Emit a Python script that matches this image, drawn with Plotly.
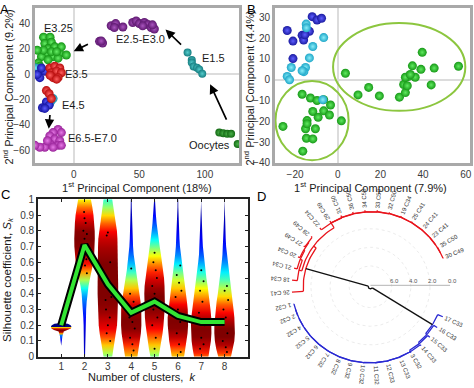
import math
import plotly.graph_objects as go

W, H = 474, 388
def px(x): return x / W
def py(y): return 1 - y / H

# ---------------- Panel A data ----------------
a_oocyte_x = [111, 114, 117, 120, 125]
a_oocyte_y = [-46, -46.5, -47, -47, -55]
a_e15_x = [86.8, 90, 90, 91.4, 94, 95.7, 98]
a_e15_y = [17, 11, 9, 6, 5, 3.6, 0.3]
a_e25_x = [19.7, 22, 21, 28.6, 32, 31, 37.5, 45, 47.6, 50, 53.9, 56.5, 59, 61.5, 52.6, 60]
a_e25_y = [25.7, 24.4, 26, 38, 39.7, 36.6, 37, 40.5, 41.7, 39.7, 40.5, 39, 36.6, 35.4, 37.9, 38.7]
a_e325_x = [-23, -18, -22, -17, -19.5, -14.4, -10.6, -5.6, -9.4, -20.8, -24.6, -27, -15.7, -11.9, -23, -19.5, -25.8, -27.8, -17, -13]
a_e325_y = [29, 29, 24, 25, 20, 21.4, 16.3, 15, 21.4, 16.3, 13.7, 8.6, 13.7, 12.5, 18.8, 11.2, 6.1, 18.8, 17.6, 17.6]
a_e35_x = [-18.2, -14.4, -10.6, -17, -13, -9.4, -15.7, -11.9, -18, -13]
a_e35_y = [4.8, 6.1, 4.8, 1, 2.3, 1, -2.8, -2.8, -1, -4]
a_blue_x = [-25.8, -22, -27.8, -24.6, -20.8, -23.8, -18.7, -22]
a_blue_y = [-2.8, 2.3, -0.3, 4.8, -21.9, -26.5, -24.4, -27]
a_cyan_x = [-27, -29, -17, -15.7, -18.2]
a_cyan_y = [2.3, 4.8, -20.6, -19.3, -23]
a_e45red_x = [-20.8, -18.7, -17]
a_e45red_y = [-13, -15.5, -19.3]
a_e65_x = [-11.9, -9.4, -15.7, -18.2, -14.4, -10.6, -11.9, -18.2, -22, -25.8, -29.6, -15.7, -9.4, -20]
a_e65_y = [-43.5, -46, -46, -48.6, -51, -52.4, -56, -55, -57.5, -57.5, -56, -57.5, -56, -52.4]

a_label_text = ['E3.25', 'E2.5-E3.0', 'E1.5', 'E3.5', 'E4.5', 'E6.5-E7.0', 'Oocytes']
a_label_x = [-24.5, 31, 96, -8, -10.6, -5.6, 121]
a_label_y = [36, 27.7, 12.5, 0, -24, -50, -55.5]
a_label_anchor = ['left', 'left', 'left', 'left', 'left', 'left', 'right']

arr_tail_x = [117, 83, 12, -18]
arr_tail_y = [-37, 22, 24, -31]
arr_head_x = [104, 70, 0, -19]
arr_head_y = [-8, 35, 18, -43]

# ---------------- Panel B data ----------------
b_blue_x = [-23.7, -21, -21, -12, -9.7, -7.6, -16.7, -13.3, -16, -15.4]
b_blue_y = [23.7, 18.6, 10.2, 30.4, 28.8, 29.6, 21.4, 23.3, 19.1, 21.7]
b_cyan_x = [-14.8, -14.7, -6.6, -11.7, -13.3, -21.8, -15.1, -15.9, -23.7, -22.6, -7, -16.7]
b_cyan_y = [26.8, 25, 20.3, 16, 10.5, 5.9, 5.9, 3.9, 1.6, 0, -9.6, 4.3]
b_green_x = [-25.7, -16.7, -12.8, -9.7, -6.6, -3.4, -11.7, -6.6, -3.9, -14.4, -15.1, -10.5, -9.2, -14.7, -11.7, -16.4, 1.7, -14.4,
             3.6, 9.5, 14.5, 19.5, 28.9, 31.7, 30.9, 32.6, 33.2, 31.7, 36.3, 35, 39, 39.6, 45.2, 43.8, 56.6, 34]
b_green_y = [-22.5, -7, -8.8, -10, -9.6, -12.2, -15.3, -15, -17, -19.7, -23.6, -23.6, -18.1, -28.2, -28.5, -34.4, -19.8, -21.2,
             3.1, -7.3, -3.7, -7.8, -8.4, -6.2, -2.3, -2.9, 1.6, 1.2, 1.2, 6.7, 5, 13.2, 5.6, -2.5, 6.5, 2.5]
b_ell_x0 = [-29.2, -2.2]
b_ell_x1 = [5.1, 59.8]
b_ell_y0 = [-38.8, -15.0]
b_ell_y1 = [-0.6, 27.3]

# ---------------- Panel C data ----------------
c_k = [1, 2, 3, 4, 5, 6, 7, 8]
c_mean = [0.20, 0.71, 0.46, 0.28, 0.35, 0.26, 0.22, 0.22]
c_levels = [0, 0.05, 0.1, 0.15, 0.2, 0.25, 0.3, 0.35, 0.4, 0.45, 0.5, 0.55, 0.6, 0.65, 0.7, 0.75, 0.8, 0.85, 0.9, 0.95, 1.0]
c_k1_levels = [0.07, 0.10, 0.13, 0.16, 0.17, 0.18, 0.19, 0.20, 0.21, 0.215]
c_f1 = [0.0, 0.05, 0.12, 0.25, 0.7, 0.95, 1.0, 0.92, 0.65, 0.0]
c_f2 = [0.05, 0.06, 0.07, 0.08, 0.09, 0.12, 0.16, 0.21, 0.28, 0.39, 0.54, 0.72, 0.86, 0.94, 0.99, 1.0, 0.99, 0.94, 0.87, 0.76, 0.62]
c_f3 = [0.42, 0.55, 0.68, 0.8, 0.89, 0.93, 0.97, 0.99, 1, 1, 1, 1, 1, 0.98, 0.96, 0.93, 0.88, 0.78, 0.66, 0.52, 0.42]
c_f4 = [0.6, 0.73, 0.83, 0.94, 0.99, 1.0, 0.98, 0.91, 0.8, 0.68, 0.55, 0.43, 0.31, 0.24, 0.18, 0.14, 0.1, 0.08, 0.06, 0.05, 0.04]
c_f5 = [0.4, 0.55, 0.68, 0.78, 0.87, 0.94, 0.98, 1.0, 1.0, 0.97, 0.92, 0.84, 0.74, 0.62, 0.5, 0.38, 0.28, 0.2, 0.13, 0.08, 0.04]
c_f6 = [0.6, 0.72, 0.85, 0.94, 0.99, 1.0, 0.96, 0.88, 0.78, 0.68, 0.58, 0.48, 0.36, 0.27, 0.2, 0.15, 0.11, 0.08, 0.06, 0.04, 0.03]
c_f7 = [0.7, 0.84, 0.94, 0.99, 1.0, 0.97, 0.9, 0.82, 0.72, 0.62, 0.5, 0.4, 0.3, 0.22, 0.16, 0.12, 0.09, 0.07, 0.05, 0.03, 0.02]
c_f8 = [0.62, 0.82, 0.95, 1.0, 1.0, 0.95, 0.87, 0.78, 0.66, 0.55, 0.45, 0.36, 0.28, 0.21, 0.15, 0.11, 0.08, 0.06, 0.04, 0.02, 0.0]
c_dot_x = [2.0, 2.05, 1.95, 2.1, 2.0, 1.92, 2.08, 2.02, 2.1, 1.98,
           3.0, 2.95, 3.1, 2.9, 3.05, 3.15, 2.92, 3.08, 3.0, 2.95, 3.1, 2.9,
           4.0, 3.95, 4.1, 3.9, 4.05, 4.15, 3.95, 4.05, 4.1, 3.92,
           5.0, 4.95, 5.05, 4.9, 5.1, 5.0, 4.95, 5.12, 4.9, 5.05, 5.0,
           6.1, 5.95, 6.05, 6.15, 5.9, 6.0, 6.1, 5.95, 6.05, 6.12,
           7.0, 7.1, 6.95, 7.05, 6.9, 7.15, 7.0, 6.95, 7.1,
           8.1, 8.0, 8.15, 7.95, 8.05, 8.12, 7.92, 8.05, 8.1]
c_dot_y = [0.88, 0.85, 0.8, 0.78, 0.75, 0.66, 0.62, 0.58, 0.53, 0.92,
           0.79, 0.77, 0.6, 0.5, 0.45, 0.38, 0.3, 0.25, 0.2, 0.15, 0.1, 0.36,
           0.56, 0.4, 0.35, 0.3, 0.22, 0.18, 0.12, 0.08, 0.04, 0.25,
           0.66, 0.6, 0.55, 0.45, 0.5, 0.4, 0.3, 0.25, 0.2, 0.12, 0.05,
           0.58, 0.52, 0.47, 0.42, 0.38, 0.3, 0.22, 0.15, 0.08, 0.03,
           0.55, 0.48, 0.42, 0.35, 0.28, 0.2, 0.12, 0.05, 0.08,
           0.45, 0.42, 0.36, 0.3, 0.25, 0.15, 0.1, 0.06, 0.03]

# ---------------- Panel D data ----------------
d_red_labels = ['26 C41', '18 C34', '21 C34', '20 C34', '27 C49', '28 C49', '22 C34', '29 C49', '31 C50', '36 C50',
                '34 C50', '33 C50', '32 C50', '19 C34', '25 C41', '24 C41', '23 C41', '35 C50', '30 C49']
d_blue_labels = ['1 C32', '2 C32', '4 C32', '5 C32', '6 C32', '7 C32', '8 C32', '9 C32', '10 C32', '11 C32',
                 '12 C33', '13 C33', '3 C32', '14 C33', '15 C33', '16 C33', '17 C33']
d_red_right_chain = [18, 17, 16, 15, 14, 13, 12, 11, 10, 9, 8, 7, 6]
d_red_right_h = [0.04, 0.06, 0.08, 0.10, 0.12, 0.13, 0.15, 0.17, 0.19, 0.21, 0.23, 0.26]
d_red_left_chain = [5, 4, 3, 2, 1]
d_red_left_h = [0.14, 0.22, 0.32, 0.55]
d_red_join_h = 0.85
d_red_root_h = 1.2
d_blue_h = [0.02, 0.025, 0.03, 0.035, 0.04, 0.045, 0.05, 0.06, 0.07, 0.08, 0.09, 0.1, 0.12, 0.28, 0.42, 0.58]
d_root_h = 8.0
d_scale_ticks = [6.0, 4.0, 2.0, 0.0]

# ---------------- helpers ----------------
fig = go.Figure()

def jet(v):
    v = max(0.0, min(1.0, v))
    def c(x): return int(round(255 * max(0.0, min(1.0, x))))
    return 'rgb(%d,%d,%d)' % (c(1.5 - abs(4 * v - 3)), c(1.5 - abs(4 * v - 2)), c(1.5 - abs(4 * v - 1)))

def balls(xs, ys, base, light, size, xa, ya):
    fig.add_trace(go.Scatter(x=xs, y=ys, mode='markers', xaxis=xa, yaxis=ya,
                             marker=dict(size=size, color=base, gradient=dict(type='radial', color=light),
                                         line=dict(width=0)),
                             showlegend=False, hoverinfo='skip'))

# ---------------- Panel A traces ----------------
balls(a_e65_x, a_e65_y, '#9a249a', '#e77ae7', 9, 'x', 'y')
balls(a_e325_x, a_e325_y, '#149414', '#66ee66', 9, 'x', 'y')
balls(a_cyan_x, a_cyan_y, '#1a8fb0', '#78eaf8', 9, 'x', 'y')
balls(a_blue_x, a_blue_y, '#1414a0', '#5c5cff', 9, 'x', 'y')
balls(a_e45red_x, a_e45red_y, '#b80d0d', '#ff6060', 9, 'x', 'y')
balls(a_e35_x, a_e35_y, '#b80d0d', '#ff6060', 9, 'x', 'y')
balls(a_e25_x, a_e25_y, '#5e1870', '#aa55bf', 9, 'x', 'y')
balls(a_e15_x, a_e15_y, '#177f82', '#55cccc', 8, 'x', 'y')
balls(a_oocyte_x, a_oocyte_y, '#156a15', '#48b048', 8, 'x', 'y')

annotations = []
for t, x, y, an in zip(a_label_text, a_label_x, a_label_y, a_label_anchor):
    annotations.append(dict(text=t, x=x, y=y, xref='x', yref='y', xanchor=an, yanchor='middle',
                            showarrow=False, font=dict(size=11, color='#1a1a1a')))
for tx, ty, hx, hy in zip(arr_tail_x, arr_tail_y, arr_head_x, arr_head_y):
    annotations.append(dict(text='', x=hx, y=hy, ax=tx, ay=ty, xref='x', yref='y', axref='x', ayref='y',
                            showarrow=True, arrowhead=2, arrowsize=1.1, arrowwidth=1.7, arrowcolor='black'))

# ---------------- Panel B traces ----------------
shapes = []
for x0, x1, y0, y1 in zip(b_ell_x0, b_ell_x1, b_ell_y0, b_ell_y1):
    shapes.append(dict(type='circle', xref='x2', yref='y2', x0=x0, x1=x1, y0=y0, y1=y1,
                       line=dict(color='#8cc63f', width=2), layer='between'))
balls(b_green_x, b_green_y, '#179917', '#60ea60', 9, 'x2', 'y2')
balls(b_blue_x, b_blue_y, '#1a1aa0', '#5e5eff', 9, 'x2', 'y2')
balls(b_cyan_x, b_cyan_y, '#1ea6c8', '#8aeef9', 9, 'x2', 'y2')

# ---------------- Panel C traces ----------------
VW = 0.44
profiles = [(1, c_k1_levels, c_f1), (2, c_levels, c_f2), (3, c_levels, c_f3), (4, c_levels, c_f4),
            (5, c_levels, c_f5), (6, c_levels, c_f6), (7, c_levels, c_f7), (8, c_levels, c_f8)]
for k, lv, ff in profiles:
    xs = [k + VW * f for f in ff] + [k - VW * f for f in reversed(ff)]
    ys = list(lv) + list(reversed(lv))
    y0, y1 = lv[0], lv[-1]
    cs = [[(y - y0) / (y1 - y0), jet(f)] for y, f in zip(lv, ff)]
    fig.add_trace(go.Scatter(x=xs, y=ys, xaxis='x3', yaxis='y3', mode='lines', fill='toself',
                             line=dict(width=0, color='rgba(0,0,0,0)'),
                             fillgradient=dict(type='vertical', colorscale=cs, start=y0, stop=y1),
                             showlegend=False, hoverinfo='skip'))
fig.add_trace(go.Scatter(x=c_dot_x, y=c_dot_y, xaxis='x3', yaxis='y3', mode='markers',
                         marker=dict(size=2, color='black'), showlegend=False, hoverinfo='skip'))
fig.add_trace(go.Scatter(x=c_k, y=c_mean, xaxis='x3', yaxis='y3', mode='lines',
                         line=dict(color='black', width=8), showlegend=False, hoverinfo='skip'))
fig.add_trace(go.Scatter(x=c_k, y=c_mean, xaxis='x3', yaxis='y3', mode='lines',
                         line=dict(color='#33e633', width=4), showlegend=False, hoverinfo='skip'))

# ---------------- Panel D traces ----------------
R0, KH = 79.0, 9.6
RED_START, BLUE_START, STEP = 184.0, 193.0, 9.0
def rad(h): return R0 - KH * h
def pol(theta, r): return (r * math.cos(math.radians(theta)), r * math.sin(math.radians(theta)))
segs = {'red': ([], []), 'blue': ([], []), 'black': ([], [])}
def add_line(col, pts):
    xs, ys = segs[col]
    for (x, y) in pts:
        xs.append(x); ys.append(y)
    xs.append(None); ys.append(None)
def arc(col, t1, t2, r):
    n = max(2, int(abs(t2 - t1) / 2) + 2)
    add_line(col, [pol(t1 + (t2 - t1) * i / (n - 1), r) for i in range(n)])
def merge(n1, n2, h, col):
    for (t, hh) in (n1, n2):
        add_line(col, [pol(t, rad(hh)), pol(t, rad(h))])
    arc(col, n1[0], n2[0], rad(h))
    return ((n1[0] + n2[0]) / 2.0, h)
def red_ang(i): return RED_START - STEP * i
def blue_ang(j): return BLUE_START + STEP * j

node = (red_ang(d_red_right_chain[0]), 0.0)
for leaf, h in zip(d_red_right_chain[1:], d_red_right_h):
    node = merge(node, (red_ang(leaf), 0.0), h, 'red')
R_node = node
node = (red_ang(d_red_left_chain[0]), 0.0)
for leaf, h in zip(d_red_left_chain[1:], d_red_left_h):
    node = merge(node, (red_ang(leaf), 0.0), h, 'red')
L_node = node
LR = merge(L_node, R_node, d_red_join_h, 'red')
red_root = merge((red_ang(0), 0.0), LR, d_red_root_h, 'red')
node = (blue_ang(0), 0.0)
for j, h in enumerate(d_blue_h, start=1):
    node = merge(node, (blue_ang(j), 0.0), h, 'blue')
blue_root = node
merge(red_root, blue_root, d_root_h, 'black')

for h in d_scale_ticks[:-1]:
    ring = [pol(t, rad(h)) for t in range(0, 361, 3)]
    fig.add_trace(go.Scatter(x=[p[0] for p in ring], y=[p[1] for p in ring], xaxis='x4', yaxis='y4', mode='lines',
                             line=dict(color='#e6e6e6', width=0.8, dash='dot'), showlegend=False, hoverinfo='skip'))
fig.add_trace(go.Scatter(x=[0, rad(-0.1)], y=[1.5, 1.5], xaxis='x4', yaxis='y4', mode='lines',
                         line=dict(color='#b5b5b5', width=1), showlegend=False, hoverinfo='skip'))
for col, lc in (('red', '#e8141c'), ('blue', '#2a2ad2'), ('black', '#111111')):
    xs, ys = segs[col]
    fig.add_trace(go.Scatter(x=xs, y=ys, xaxis='x4', yaxis='y4', mode='lines',
                             line=dict(color=lc, width=1.3), showlegend=False, hoverinfo='skip'))
for h in d_scale_ticks:
    annotations.append(dict(text='%.1f' % h, x=rad(h) + 3, y=5.5, xref='x4', yref='y4', showarrow=False,
                            font=dict(size=6, color='#555555'), xanchor='center', yanchor='middle'))

FS = 6
def tw(s): return sum(0.556 if c.isdigit() else (0.278 if c == ' ' else 0.722) for c in s) * FS
leaf_items = [(lab, red_ang(i)) for i, lab in enumerate(d_red_labels)] + \
             [(lab, blue_ang(j)) for j, lab in enumerate(d_blue_labels)]
for lab, th in leaf_items:
    rc = R0 + 3 + tw(lab) / 2
    x, y = pol(th, rc)
    annotations.append(dict(text=lab, x=x, y=y, xref='x4', yref='y4', showarrow=False, textangle=-th,
                            font=dict(size=FS, color='#333333'), xanchor='center', yanchor='middle'))

# ---------------- titles & panel letters ----------------
TF = dict(size=11, color='#1a1a1a')
def ptext(text, x, y, font, angle=0, ya='middle'):
    return dict(text=text, x=px(x), y=py(y), xref='paper', yref='paper', showarrow=False, font=font,
                textangle=angle, xanchor='center', yanchor=ya)
annotations += [
    ptext('1<sup>st</sup> Principal Component (18%)', 138, 178.5, TF, ya='top'),
    ptext('2<sup>nd</sup> Principal Component (9.2%)', 8, 84, TF, -90),
    ptext('1<sup>st</sup> Principal Component (7.9%)', 372, 178.5, TF, ya='top'),
    ptext('2<sup>nd</sup> Principal Component (4.4%)', 250, 85, TF, -90),
    ptext('Number of clusters,  <i>k</i>', 142, 383, dict(size=11, color='#1a1a1a')),
    ptext('Silhouette coefficient, <i>S<sub>k</sub></i>', 8, 282, dict(size=11.5, color='#1a1a1a'), -90),
]
for letter, lx, ly in (('A', 5, 5), ('B', 253, 5), ('C', 6, 195), ('D', 263, 197)):
    annotations.append(ptext(letter, lx, ly, dict(size=13, color='black')))

TICKF = dict(size=10, color='#3a3a3a', family='Liberation Sans, Arial')
frameAB = dict(showline=True, mirror=True, linecolor='#a9a9a9', linewidth=2.5, showgrid=False,
               zeroline=True, zerolinecolor='#dcdcdc', zerolinewidth=1.5, ticks='', tickfont=TICKF)
frameC = dict(showline=True, mirror='ticks', linecolor='#222222', linewidth=1.5, showgrid=False, zeroline=False,
              ticks='inside', ticklen=3, tickcolor='#222222', tickfont=dict(size=10, color='#3a3a3a', family='Liberation Sans, Arial'))

fig.update_layout(
    width=W, height=H, autosize=False, margin=dict(l=0, r=0, t=0, b=0),
    paper_bgcolor='white', plot_bgcolor='white', showlegend=False,
    font=dict(family='Liberation Sans, Arial, sans-serif'),
    xaxis=dict(domain=[px(35), px(240)], range=[-29.6, 126], tickvals=[0, 50, 100], anchor='y', **frameAB),
    yaxis=dict(domain=[py(163), py(3)], range=[-70.2, 52], tickvals=[-60, -40, -20, 0, 20, 40], anchor='x', **frameAB),
    xaxis2=dict(domain=[px(276), px(472)], range=[-29.5, 62], tickvals=[-20, 0, 20, 40, 60], anchor='y2', **frameAB),
    yaxis2=dict(domain=[py(163), py(3)], range=[-40.3, 34.6], tickvals=[-40, -30, -20, -10, 0, 10, 20, 30], anchor='x2', **frameAB),
    xaxis3=dict(domain=[px(38), px(249)], range=[0, 9], tickvals=c_k, anchor='y3', **frameC),
    yaxis3=dict(domain=[py(362), py(200)], range=[0, 1], tickvals=[0, 0.1, 0.2, 0.3, 0.4, 0.5, 0.6, 0.7, 0.8, 0.9, 1],
                ticktext=['0', '0.1', '0.2', '0.3', '0.4', '0.5', '0.6', '0.7', '0.8', '0.9', '1'], anchor='x3', **frameC),
    xaxis4=dict(domain=[px(280), 1], range=[-92, 102], visible=False, anchor='y4'),
    yaxis4=dict(domain=[0, py(195)], range=[-98, 95], visible=False, anchor='x4'),
    annotations=annotations, shapes=shapes,
)

fig.write_html('out.html', config={'displayModeBar': False},
               post_script="document.body.style.margin='0';document.body.style.padding='0';document.body.style.overflow='hidden';")
